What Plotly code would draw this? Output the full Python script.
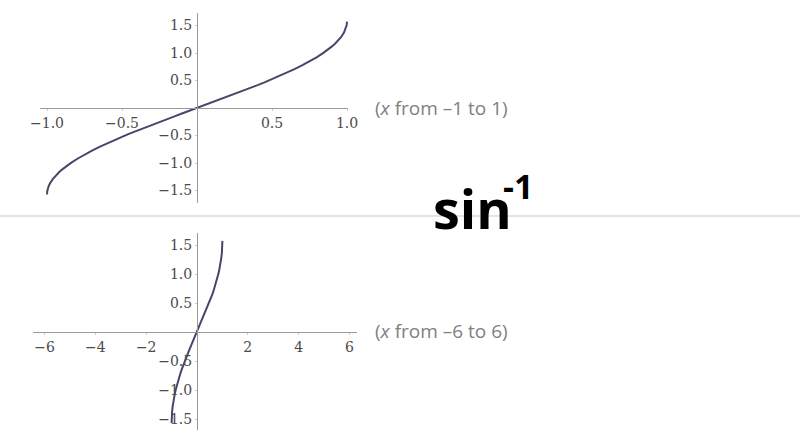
import plotly.graph_objects as go

# Values (inverse sine), shared by both panels
curve_x = [-1.0, -0.998, -0.99, -0.98, -0.96, -0.94, -0.92, -0.9, -0.87, -0.84, -0.8, -0.75, -0.7, -0.65,
           -0.6, -0.55, -0.5, -0.45, -0.4, -0.35, -0.3, -0.25, -0.2, -0.15, -0.1, -0.05,
           0.0, 0.05, 0.1, 0.15, 0.2, 0.25, 0.3, 0.35, 0.4, 0.45, 0.5, 0.55, 0.6, 0.65,
           0.7, 0.75, 0.8, 0.84, 0.87, 0.9, 0.92, 0.94, 0.96, 0.98, 0.99, 0.998, 1.0]
curve_y = [-1.571, -1.508, -1.429, -1.370, -1.287, -1.223, -1.169, -1.120, -1.055, -0.998, -0.927, -0.848,
           -0.775, -0.708, -0.644, -0.582, -0.524, -0.467, -0.412, -0.358, -0.305, -0.253, -0.201, -0.151,
           -0.100, -0.050,
           0.0, 0.050, 0.100, 0.151, 0.201, 0.253, 0.305, 0.358, 0.412, 0.467, 0.524, 0.582, 0.644, 0.708,
           0.775, 0.848, 0.927, 0.998, 1.055, 1.120, 1.169, 1.223, 1.287, 1.370, 1.429, 1.508, 1.571]

top_xticks = [-1.0, -0.5, 0.5, 1.0]
top_xlabels = ["\u22121.0", "\u22120.5", "0.5", "1.0"]
bot_xticks = [-6, -4, -2, 2, 4, 6]
bot_xlabels = ["\u22126", "\u22124", "\u22122", "2", "4", "6"]
yticks = [-1.5, -1.0, -0.5, 0.5, 1.0, 1.5]
ylabels = ["\u22121.5", "\u22121.0", "\u22120.5", "0.5", "1.0", "1.5"]

W, H = 800, 435
def px(x):
    return x / W
def py(y):
    return (H - y) / H

LINE = "#46466a"
AX = "#9a9a9a"
TICKFONT = dict(family="DejaVu Serif, Liberation Serif, serif", size=14, color="#4a4a4a")

fig = go.Figure()
fig.add_trace(go.Scatter(x=curve_x, y=curve_y, mode="lines", line=dict(color=LINE, width=2),
                         xaxis="x", yaxis="y", hoverinfo="skip"))
fig.add_trace(go.Scatter(x=curve_x, y=curve_y, mode="lines", line=dict(color=LINE, width=2),
                         xaxis="x2", yaxis="y2", hoverinfo="skip"))

common = dict(showgrid=False, zeroline=False, showline=True, linecolor=AX, linewidth=1, automargin=False,
              ticks="outside", ticklen=2, tickcolor="#cccccc", tickfont=TICKFONT, fixedrange=True)

# top panel: zero at pixel (197,108), 150 px/unit in x, 55 px/unit in y
x0, y0 = 197, 108
fig.update_layout(
    xaxis=dict(domain=[px(40), px(348)], range=[(40 - x0) / 150, (348 - x0) / 150],
               anchor="free", position=py(y0), tickvals=top_xticks, ticktext=top_xlabels, **common),
    yaxis=dict(domain=[py(203), py(13)], range=[(y0 - 203) / 55, (y0 - 13) / 55],
               anchor="free", position=px(x0), tickvals=yticks, ticktext=ylabels, **common),
)
# bottom panel: zero at pixel (197,332), 25.4 px/unit in x, 58 px/unit in y
bx0, by0 = 197, 332
fig.update_layout(
    xaxis2=dict(domain=[px(33), px(357)], range=[(33 - bx0) / 25.4, (357 - bx0) / 25.4],
                anchor="free", position=py(by0), tickvals=bot_xticks, ticktext=bot_xlabels, **common),
    yaxis2=dict(domain=[py(430), py(233)], range=[(by0 - 430) / 58, (by0 - 233) / 58],
                anchor="free", position=px(bx0), tickvals=yticks, ticktext=ylabels, **common),
)

fig.add_shape(type="line", xref="paper", yref="paper", x0=0, x1=1, y0=py(216), y1=py(216),
              line=dict(color="#e4e4e4", width=2))

lab_font = dict(family="Open Sans, Noto Sans, sans-serif", size=19, color="#808080")
fig.add_annotation(x=px(373), y=py(108), xref="paper", yref="paper", xanchor="left", yanchor="middle",
                   text="(<i>x</i> from \u20131 to 1)", showarrow=False, font=lab_font)
fig.add_annotation(x=px(373), y=py(331), xref="paper", yref="paper", xanchor="left", yanchor="middle",
                   text="(<i>x</i> from \u20136 to 6)", showarrow=False, font=lab_font)

big_font = dict(family="Open Sans, Noto Sans, sans-serif", size=54, color="#000000")
fig.add_annotation(x=px(431), y=py(208), xref="paper", yref="paper", xanchor="left", yanchor="middle",
                   text="<b>sin</b>", showarrow=False, font=big_font)
fig.add_annotation(x=px(501), y=py(186), xref="paper", yref="paper", xanchor="left", yanchor="middle",
                   text="<b>-1</b>", showarrow=False,
                   font=dict(family="Open Sans, Noto Sans, sans-serif", size=34, color="#000000"))

fig.update_layout(width=W, height=H, margin=dict(l=0, r=0, t=0, b=0), showlegend=False,
                  paper_bgcolor="white", plot_bgcolor="white")

fig.write_html("out.html", config={"displayModeBar": False},
               post_script="document.body.style.margin='0';")
